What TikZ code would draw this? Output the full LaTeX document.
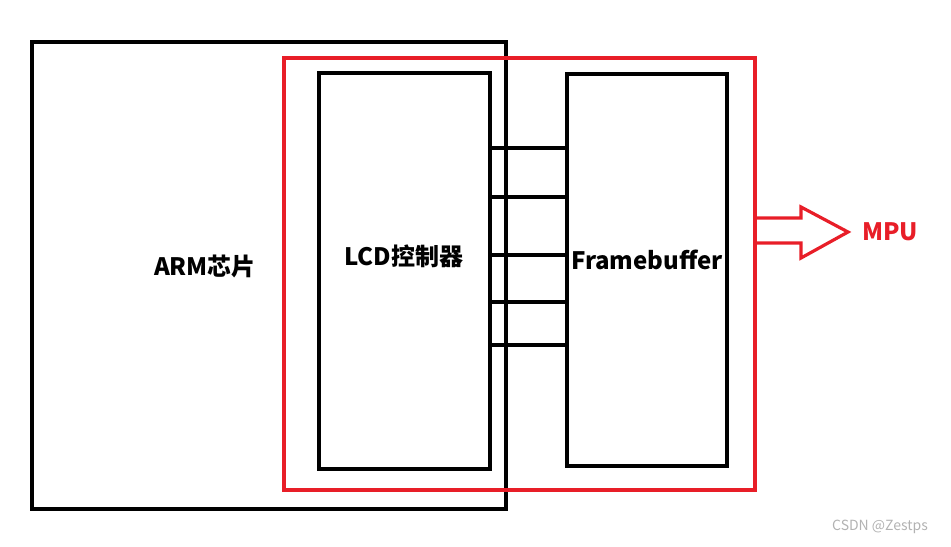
\documentclass[tikz,border=0pt]{standalone}
\usepackage{fontspec}
\setmainfont{Noto Sans CJK SC}
\definecolor{rd}{RGB}{232,30,40}
\begin{document}
\begin{tikzpicture}[x=0.5pt,y=-0.5pt,
  blk/.style={draw=black,line width=2pt},
  lbl/.style={font=\bfseries\fontsize{12}{14}\selectfont},
  wire/.style={draw=black,line width=1.6pt}]
\useasboundingbox (0,0) rectangle (951,546);
\node[blk,minimum width=474pt*0.5,minimum height=467pt*0.5,anchor=north west] (arm) at (30,40) {};
\draw[rd,line width=1.6pt] (284,58) rectangle (755,490);
\coordinate (redE) at (755,232);
\node[blk,minimum width=171pt*0.5,minimum height=396pt*0.5,anchor=north west] (lcd) at (317,71) {};
\node[blk,minimum width=160pt*0.5,minimum height=392pt*0.5,anchor=north west] (fb) at (565,72) {};
\node[lbl] at (205,266) {ARM芯片};
\node[lbl] at (404,256) {LCD控制器};
\node[lbl] at (647,260) {Framebuffer};
\foreach \y in {148,197,255,302,345} \draw[wire] (489,\y) -- (568,\y);
\draw[rd,line width=1.6pt] (redE|-0,218) -- (801,218) -- (801,207) -- (848,232) -- (801,258) -- (801,243) -- (redE|-0,243);
\node[lbl,text=rd] (mpu) at (890,232) {MPU};
\node[text=gray!60,font=\fontsize{7}{8}\selectfont] at (880,527) {CSDN @Zestps};
\end{tikzpicture}
\end{document}
